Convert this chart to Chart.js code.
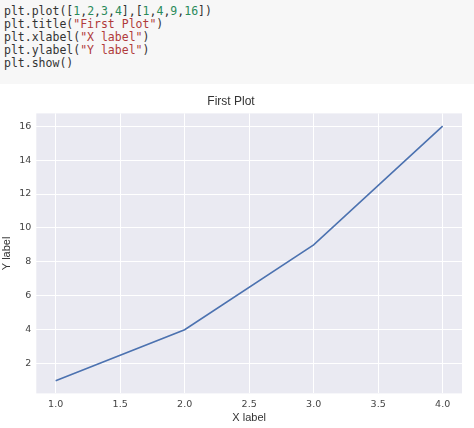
<!DOCTYPE html>
<html><head><meta charset="utf-8">
<script src="https://cdn.jsdelivr.net/npm/chart.js@4"></script>
<style>
body{margin:0;background:#fff;width:474px;height:428px;overflow:hidden;font-family:"DejaVu Sans Mono",monospace}
#code{position:absolute;left:0;top:0;width:474px;height:84px;background:#f7f7f7;}
#code pre{margin:0;padding:5px 0 0 4px;font-family:"DejaVu Sans Mono",monospace;font-size:11.5px;line-height:13px;color:#333}
.n{color:#2a8a5a}.s{color:#b03a3a}
#wrap{position:absolute;left:0;top:88px;width:474px;height:340px}
</style></head><body>
<div id="code"><pre>plt.plot([<span class="n">1</span>,<span class="n">2</span>,<span class="n">3</span>,<span class="n">4</span>],[<span class="n">1</span>,<span class="n">4</span>,<span class="n">9</span>,<span class="n">16</span>])
plt.title(<span class="s">"First Plot"</span>)
plt.xlabel(<span class="s">"X label"</span>)
plt.ylabel(<span class="s">"Y label"</span>)
plt.show()</pre></div>
<div id="wrap"><canvas id="c"></canvas></div>
<script>
const xValues=[1,2,3,4];
const yValues=[1,4,9,16];
const xTicks=[1.0,1.5,2.0,2.5,3.0,3.5,4.0];
const yTicks=[2,4,6,8,10,12,14,16];
const bg={id:'bg',beforeDraw(ch){const a=ch.chartArea,c=ch.ctx;c.save();c.fillStyle='#eaeaf2';c.fillRect(a.left,a.top,a.right-a.left,a.bottom-a.top);c.restore();}};
new Chart(document.getElementById('c'),{
type:'line',
data:{datasets:[{data:xValues.map((x,i)=>({x,y:yValues[i]})),borderColor:'#4c72b0',borderWidth:1.6,pointRadius:0,tension:0,fill:false}]},
options:{responsive:true,maintainAspectRatio:false,animation:false,
layout:{padding:{right:12,top:0,left:0,bottom:3}},
plugins:{legend:{display:false},tooltip:{enabled:false},
title:{display:true,text:'First Plot',color:'#333',font:{family:'Liberation Sans',size:12,weight:'normal'},padding:{top:6,bottom:5}}},
scales:{
x:{type:'linear',min:0.85,max:4.15,afterBuildTicks:s=>{s.ticks=xTicks.map(v=>({value:v}));},
grid:{color:'#fff',lineWidth:1,drawTicks:false},border:{display:false},
ticks:{padding:5,color:'#444',font:{family:'DejaVu Sans',size:9.5},callback:v=>v.toFixed(1)},
title:{display:true,text:'X label',color:'#333',font:{family:'Liberation Sans',size:11},padding:{top:-3,bottom:0}}},
y:{min:0.25,max:16.75,afterBuildTicks:s=>{s.ticks=yTicks.map(v=>({value:v}));},
grid:{color:'#fff',lineWidth:1,drawTicks:false},border:{display:false},
ticks:{padding:5,color:'#444',font:{family:'DejaVu Sans',size:9.5}},
title:{display:true,text:'Y label',color:'#333',font:{family:'Liberation Sans',size:11},padding:{top:0,bottom:1}}}
}},plugins:[bg]});
</script></body></html>
